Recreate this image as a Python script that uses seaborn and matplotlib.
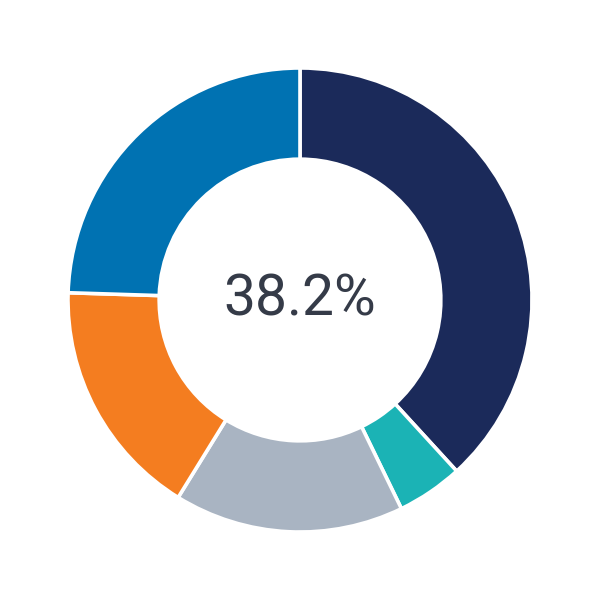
import matplotlib
matplotlib.use("Agg")
import matplotlib.pyplot as plt
import seaborn as sns

categories = ["Navy", "Teal", "Gray", "Orange", "Blue"]
values = [38.2, 4.6, 16.0, 16.7, 24.5]
colors = ["#1b2a5a", "#1bb3b5", "#a9b4c2", "#f47d20", "#0072b2"]
center_label = "38.2%"

sns.set_theme(style="white")
plt.rcParams['font.family'] = ['Roboto', 'DejaVu Sans']

fig = plt.figure(figsize=(6, 6), dpi=100)
ax = fig.add_axes([0, 0, 1, 1])
ax.pie(values, colors=colors, startangle=90, counterclock=False,
       radius=1.0,
       wedgeprops=dict(width=0.393, edgecolor="white", linewidth=2.6))
ax.set_xlim(-1.293, 1.293)
ax.set_ylim(-1.293, 1.293)
ax.set_aspect("equal")
ax.axis("off")
ax.text(0, 0, center_label, ha="center", va="center", fontsize=41,
        color="#353b48")
fig.savefig("out.png", dpi=100, facecolor="white")
